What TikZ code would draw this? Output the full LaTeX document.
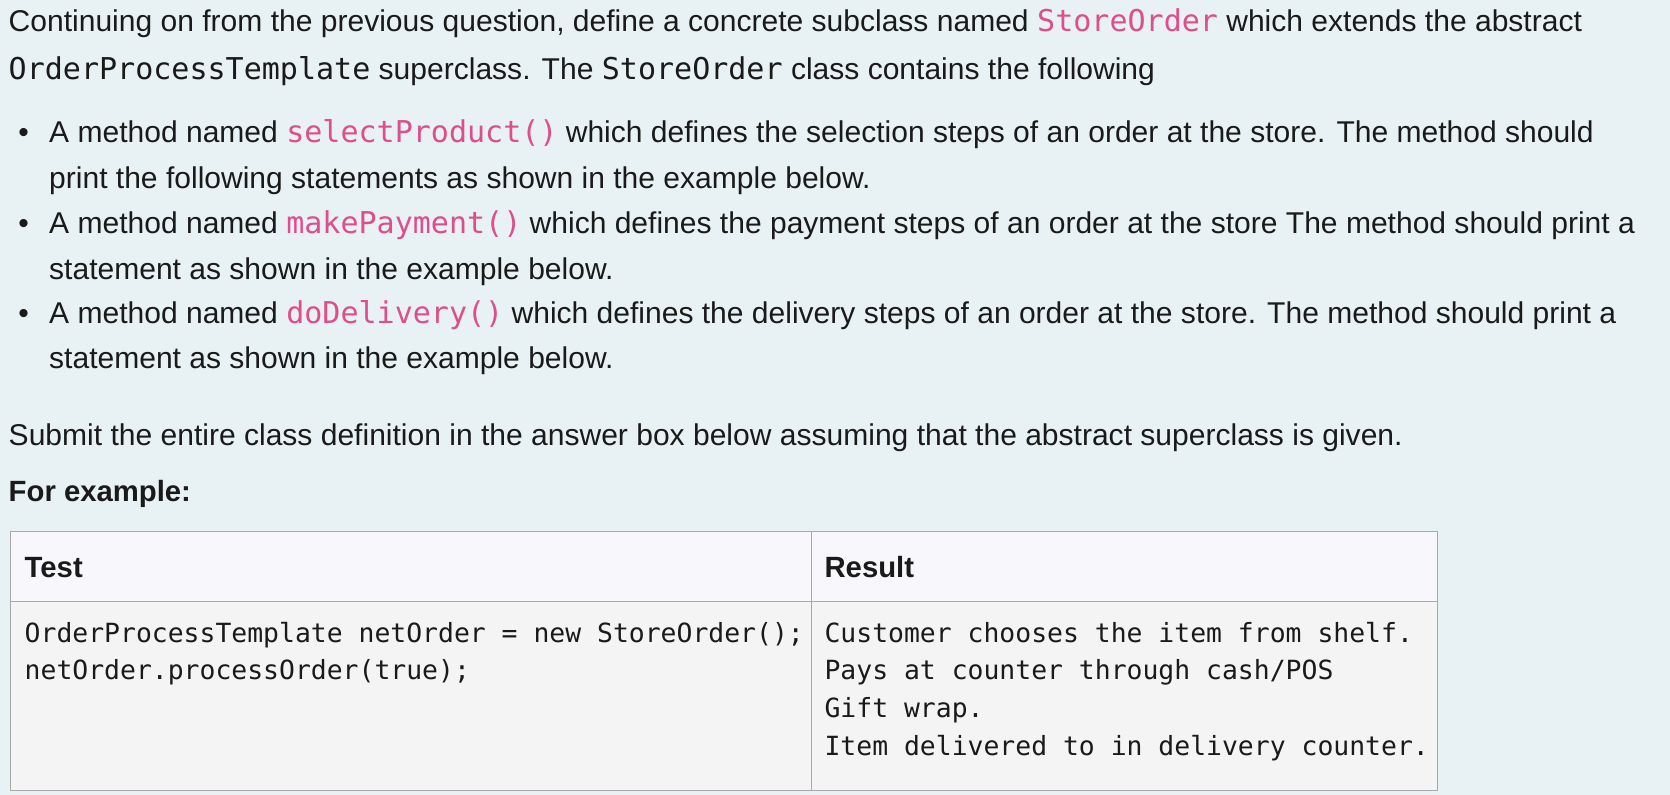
\documentclass[tikz,border=0pt]{standalone}
\usepackage{fontspec}
\setmainfont{Liberation Sans}
\setmonofont{DejaVu Sans Mono}
\definecolor{bg}{HTML}{E8F2F4}
\definecolor{pink}{HTML}{DE4E8C}
\definecolor{hd}{HTML}{F8F8FC}
\definecolor{bd}{HTML}{F4F4F4}
\definecolor{ln}{HTML}{A9A9A9}
\definecolor{tx}{HTML}{1A1A1A}
\newcommand{\pk}[1]{{\color{pink}\ttfamily #1}}
\begin{document}
\begin{tikzpicture}[x=1pt,y=-1pt,
  t/.style={anchor=base west,inner sep=0pt,font=\fontsize{28.2}{32}\selectfont,text=tx},
  c/.style={anchor=base west,inner sep=0pt,font=\fontsize{24.8}{28}\ttfamily,text=tx}]
\fill[bg] (0,0) rectangle (1568,746);
\useasboundingbox (0,0) rectangle (1568,746);
\node[t] (l1) at (8,30) {Continuing on from the previous question, define a concrete subclass named \pk{StoreOrder} which extends the abstract};
\node[t] (l2) at (8,75) {{\ttfamily OrderProcessTemplate} superclass. The {\ttfamily StoreOrder} class contains the following};
\foreach \y in {134,219,304} \node[t] at (17,\y) {\textbullet};
\node[t] (b1) at (46,134) {A method named \pk{selectProduct()} which defines the selection steps of an order at the store. The method should};
\node[t] (b1b) at (46,177) {print the following statements as shown in the example below.};
\node[t] (b2) at (46,219) {A method named \pk{makePayment()} which defines the payment steps of an order at the store The method should print a};
\node[t] (b2b) at (46,262) {statement as shown in the example below.};
\node[t] (b3) at (46,304) {A method named \pk{doDelivery()} which defines the delivery steps of an order at the store. The method should print a};
\node[t] (b3b) at (46,346) {statement as shown in the example below.};
\node[t] (sub) at (8,418) {Submit the entire class definition in the answer box below assuming that the abstract superclass is given.};
\node[t,font=\fontsize{27.5}{32}\bfseries] (fe) at (8,471) {For example:};
\fill[hd] (10,499) rectangle (1350,565);
\fill[bd] (10,565) rectangle (1350,742);
\draw[ln,line width=1.2pt] (10,499) rectangle (1350,742);
\draw[ln,line width=1.2pt] (10,565) -- (1350,565);
\draw[ln,line width=1.2pt] (762,499) -- (762,742);
\node[t,font=\fontsize{27.5}{32}\bfseries] (th1) at (23,542) {Test};
\node[t,font=\fontsize{27.5}{32}\bfseries] (th2) at (774,542) {Result};
\node[c] (c1) at (23,603) {OrderProcessTemplate netOrder = new StoreOrder();};
\node[c] (c2) at (23,638) {netOrder.processOrder(true);};
\node[c] (r1) at (774,603) {Customer chooses the item from shelf.};
\node[c] (r2) at (774,638) {Pays at counter through cash/POS};
\node[c] (r3) at (774,674) {Gift wrap.};
\node[c] (r4) at (774,709) {Item delivered to in delivery counter.};
\end{tikzpicture}
\end{document}
